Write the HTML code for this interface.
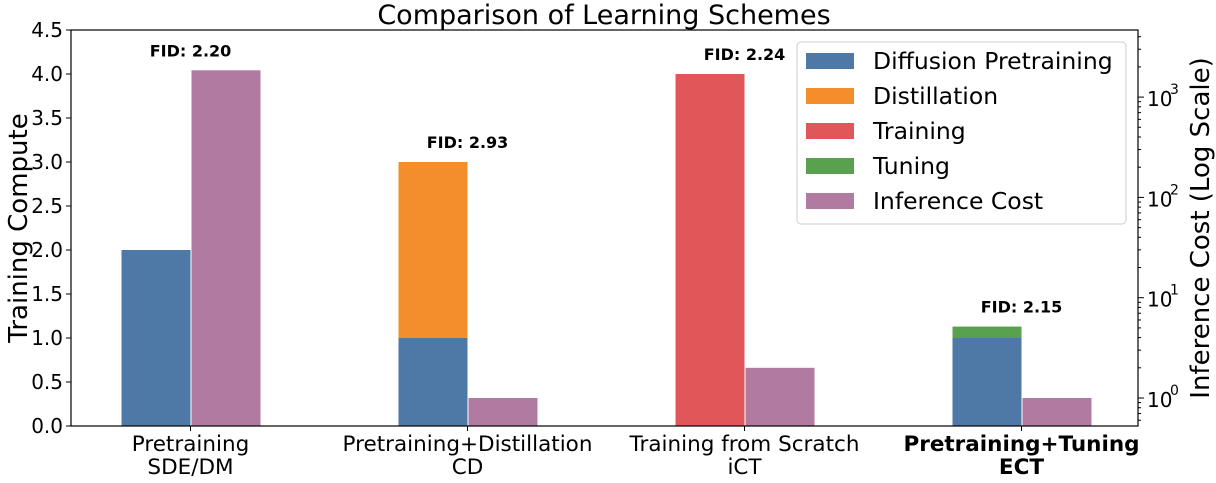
<!DOCTYPE html>
<html><head><meta charset="utf-8"><style>
body{margin:0;background:#fff}
svg{font-family:"DejaVu Sans","Liberation Sans",sans-serif}
</style></head><body>
<svg id="c" width="1216" height="478" viewBox="0 0 1216 478"></svg>
<script>
const categories=["Pretraining\nSDE/DM","Pretraining+Distillation\nCD","Training from Scratch\niCT","Pretraining+Tuning\nECT"];
const pretraining=[2,1,0,1];
const distillation=[0,2,0,0];
const training=[0,0,4,0];
const tuning=[0,0,0,0.13];
const inference=[1850,1,2,1];
const fids=["FID: 2.20","FID: 2.93","FID: 2.24","FID: 2.15"];
const leftTicks=["0.0","0.5","1.0","1.5","2.0","2.5","3.0","3.5","4.0","4.5"];
const rightTicks=[0,1,2,3];
const legendLabels=["Diffusion Pretraining","Distillation","Training","Tuning","Inference Cost"];
const colors=["#4e79a7","#f28e2b","#e15759","#59a14f","#b07aa1"];

const svg=document.getElementById('c');const NS="http://www.w3.org/2000/svg";
const X0=71,X1=1138,Y0=426,Y1=30;
const yL=v=>Y0-v*(Y0-Y1)/4.5;
const yR=v=>398-Math.log10(v)*100.3;
const cx=i=>190.5+i*277;
const BW=69;
function mk(t,a,p){const e=document.createElementNS(NS,t);for(const k in a)e.setAttribute(k,a[k]);(p||svg).appendChild(e);return e;}
function txt(x,y,s,a){const e=mk('text',Object.assign({x:x,y:y},a));e.textContent=s;return e;}

const t=txt(604,24,"Comparison of Learning Schemes",{"font-size":27,"text-anchor":"middle"});



categories.forEach((c,i)=>{
  const l=cx(i)-BW,r=cx(i)+1;
  let base=0;
  [[pretraining,0,'pretraining'],[distillation,1,'distillation'],[training,2,'training'],[tuning,3,'tuning']].forEach(([arr,ci,n])=>{
    const v=arr[i];if(!v)return;
    const b=mk('rect',{x:l,y:yL(base+v),width:BW,height:yL(base)-yL(base+v),fill:colors[ci]});
    
    
    base+=v;
  });
  const p=mk('rect',{x:r,y:yR(inference[i]),width:BW,height:Y0-yR(inference[i]),fill:colors[4]});
  
  
  const top=Math.min(yL(base),yR(inference[i]));
  const f=txt(cx(i),top-14,fids[i],{"font-size":16,"font-weight":"bold","text-anchor":"middle"});
  
  
  mk('line',{x1:cx(i),x2:cx(i),y1:Y0,y2:Y0+5,stroke:"#000"});
  const lines=c.split("\n");
  lines.forEach((s,k)=>{
    const e=txt(cx(i),Y0+25+k*23,s,{"font-size":21.5,"text-anchor":"middle","font-weight":i==3?"bold":"normal"});
    
    
  });
});

leftTicks.forEach((s,i)=>{
  const y=yL(i*0.5);
  mk('line',{x1:X0-5,x2:X0,y1:y,y2:y,stroke:"#000"});
  const e=txt(X0-8,y+7,s,{"font-size":20,"text-anchor":"end"});
  
  
});
rightTicks.forEach(p=>{
  const y=yR(Math.pow(10,p));
  mk('line',{x1:X1,x2:X1+6,y1:y,y2:y,stroke:"#000"});
  const e=txt(X1+9,y+9,"10",{"font-size":20});
  
  
  txt(X1+32,y-3,String(p),{"font-size":14});
  for(let m=2;m<10;m++){const v=m*Math.pow(10,p);const yy=yR(v);if(yy>Y1&&yy<Y0)mk('line',{x1:X1,x2:X1+3,y1:yy,y2:yy,stroke:"#000"});}
});
[0.5,0.6,0.7,0.8,0.9].forEach(v=>{const yy=yR(v);if(yy<Y0)mk('line',{x1:X1,x2:X1+3,y1:yy,y2:yy,stroke:"#000"});});

const fr=mk('rect',{x:X0,y:Y1,width:X1-X0,height:Y0-Y1,fill:"none",stroke:"#000","stroke-width":1.2});



const yl=txt(0,0,"Training Compute",{"font-size":26,"text-anchor":"middle",transform:"translate(27,228) rotate(-90)"});


const yr=txt(0,0,"Inference Cost (Log Scale)",{"font-size":26,"text-anchor":"middle",transform:"translate(1209,228) rotate(-90)"});



const lg=mk('g',{});


mk('rect',{x:797,y:42,width:329,height:182,rx:4,fill:"#fff","fill-opacity":0.85,stroke:"#ccc"},lg);
legendLabels.forEach((s,i)=>{
  const y=61+i*35;
  const r=mk('rect',{x:806,y:y-8,width:48,height:16,fill:colors[i]},lg);
  
  
  const e=txt(873,y+8,s,{"font-size":23.5},);
  lg.appendChild(e);
  
  
});
</script>
</body></html>
